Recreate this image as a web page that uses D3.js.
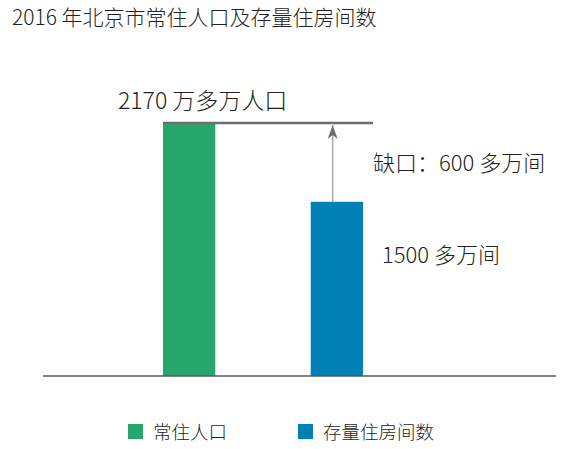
<!DOCTYPE html>
<html>
<head>
<meta charset="utf-8">
<script src="https://cdn.jsdelivr.net/npm/d3@7"></script>
<style>
  body { margin: 0; background: #fff; }
  text { font-family: "Noto Sans CJK SC", "Noto Sans", sans-serif; font-weight: 300; fill: #231f20; }
</style>
</head>
<body>
<svg width="583" height="449"></svg>
<script>
// data (万)
var categories = ["常住人口", "存量住房间数"];
var values = [2170, 1500];
var colors = ["#26a66a", "#0081b5"];
var barLabels = ["2170 万多万人口", "1500 多万间"];
var gapLabel = "缺口：600 多万间";
var title = "2016 年北京市常住人口及存量住房间数";

var svg = d3.select("svg");

var x = d3.scaleBand()
  .domain(categories)
  .range([163, 363])
  .paddingInner(0.646)
  .paddingOuter(0);

var y = d3.scaleLinear()
  .domain([0, 2170])
  .range([376, 124]);

// arrow head, drawn along +x so orient=auto turns it with the line
svg.append("defs").append("marker")
  .attr("id", "arrow")
  .attr("viewBox", "0 0 14 10")
  .attr("refX", 14).attr("refY", 5)
  .attr("markerWidth", 14).attr("markerHeight", 10)
  .attr("markerUnits", "userSpaceOnUse")
  .attr("orient", "auto")
  .append("path")
  .attr("d", "M0,0 L14,5 L0,10 L4,5 Z")
  .attr("fill", "#6d6e71");

svg.append("text")
  .attr("x", 12).attr("y", 25)
  .style("font-size", "21px")
  .text(title);

// bars
svg.selectAll(".bar")
  .data(categories)
  .enter().append("rect")
  .attr("class", "bar")
  .attr("x", function(d) { return x(d); })
  .attr("width", x.bandwidth())
  .attr("y", function(d, i) { return y(values[i]); })
  .attr("height", function(d, i) { return y(0) - y(values[i]); })
  .attr("fill", function(d, i) { return colors[i]; });

// baseline
svg.append("line")
  .attr("x1", 43).attr("x2", 556)
  .attr("y1", y(0)).attr("y2", y(0))
  .attr("stroke", "#58595b").attr("stroke-width", 1.5);

// reference line at top
var x0 = x(categories[0]);
var x1 = x(categories[1]) + x.bandwidth();
svg.append("line")
  .attr("x1", x0).attr("x2", x1 + 10)
  .attr("y1", y(values[0]) - 1).attr("y2", y(values[0]) - 1)
  .attr("stroke", "#6d6e71").attr("stroke-width", 2.5);

// arrow showing gap
var ax = x(categories[1]) + x.bandwidth() * 0.42;
svg.append("line")
  .attr("x1", ax).attr("x2", ax)
  .attr("y1", y(values[1])).attr("y2", y(values[0]) + 1)
  .attr("stroke", "#a7a9ac").attr("stroke-width", 1.5)
  .attr("marker-end", "url(#arrow)");

// labels
svg.append("text")
  .attr("x", 118).attr("y", 109)
  .style("font-size", "23px")
  .text(barLabels[0]);

svg.append("text")
  .attr("x", 373).attr("y", 171)
  .style("font-size", "22px")
  .text(gapLabel);

svg.append("text")
  .attr("x", 382).attr("y", 263)
  .style("font-size", "22px")
  .text(barLabels[1]);

// legend
var legendX = [128, 298];
var legend = svg.selectAll(".legend")
  .data(categories)
  .enter().append("g")
  .attr("class", "legend")
  .attr("transform", function(d, i) { return "translate(" + legendX[i] + ",424)"; });

legend.append("rect")
  .attr("width", 15).attr("height", 15)
  .attr("fill", function(d, i) { return colors[i]; });

legend.append("text")
  .attr("x", 25).attr("y", 15)
  .style("font-size", "18.5px")
  .text(function(d) { return d; });
</script>
</body>
</html>
